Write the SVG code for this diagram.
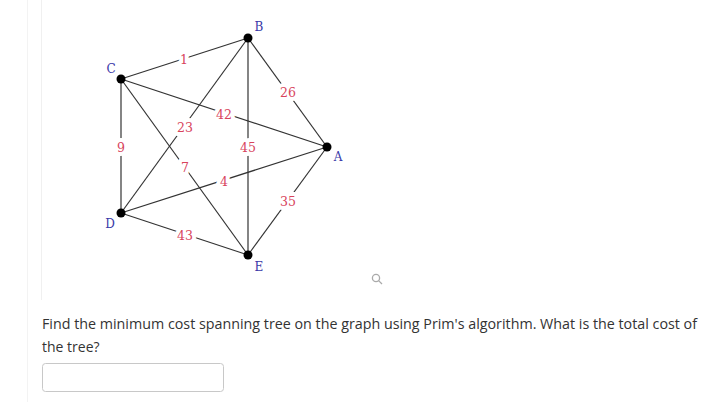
<svg xmlns="http://www.w3.org/2000/svg" width="720" height="402" viewBox="0 0 720 402">
<style>
.edge{stroke:#333;stroke-width:1.2;fill:none}
.w{font-family:"DejaVu Serif","Liberation Serif",serif;font-size:12.5px;fill:#d8445c;text-anchor:middle;dominant-baseline:central;stroke:#fff;stroke-width:8;paint-order:stroke;stroke-linejoin:round}
.nl{font-family:"DejaVu Serif","Liberation Serif",serif;font-size:12px;fill:#3a3aa8;text-anchor:middle;dominant-baseline:central}
.dot{fill:#000}
.q{font-family:"Open Sans","Noto Sans",sans-serif;font-size:14px;fill:#333}
</style>
<rect width="720" height="402" fill="#fff"/>
<line x1="27.5" y1="0" x2="27.5" y2="402" stroke="#f3f3f3" stroke-width="1"/>
<line x1="41.5" y1="0" x2="41.5" y2="300" stroke="#f0f0f0" stroke-width="1"/>
<g id="connectors">
<line class="edge" x1="121" y1="79" x2="248" y2="38"/>
<line class="edge" x1="248" y1="38" x2="327" y2="147"/>
<line class="edge" x1="121" y1="79" x2="327" y2="147"/>
<line class="edge" x1="248" y1="38" x2="121" y2="213"/>
<line class="edge" x1="121" y1="79" x2="121" y2="213"/>
<line class="edge" x1="248" y1="38" x2="248" y2="255"/>
<line class="edge" x1="121" y1="79" x2="248" y2="255"/>
<line class="edge" x1="121" y1="213" x2="327" y2="147"/>
<line class="edge" x1="327" y1="147" x2="248" y2="255"/>
<line class="edge" x1="121" y1="213" x2="248" y2="255"/>
<text class="w" x="184" y="59">1</text>
<text class="w" x="288" y="92">26</text>
<text class="w" x="224" y="114">42</text>
<text class="w" x="185" y="127">23</text>
<text class="w" x="121" y="147">9</text>
<text class="w" x="248" y="147">45</text>
<text class="w" x="185" y="167">7</text>
<text class="w" x="224" y="181">4</text>
<text class="w" x="288" y="201">35</text>
<text class="w" x="185" y="235">43</text>
</g>
<g id="node-B"><circle class="dot" cx="248" cy="38" r="4.5"/><text class="nl" x="259" y="27">B</text></g>
<g id="node-C"><circle class="dot" cx="121" cy="79" r="4.5"/><text class="nl" x="111" y="69">C</text></g>
<g id="node-A"><circle class="dot" cx="327" cy="147" r="4.5"/><text class="nl" x="338" y="157">A</text></g>
<g id="node-D"><circle class="dot" cx="121" cy="213" r="4.5"/><text class="nl" x="110" y="224">D</text></g>
<g id="node-E"><circle class="dot" cx="248" cy="255" r="4.5"/><text class="nl" x="259" y="267">E</text></g>
<g id="search-icon" stroke="#aaa" stroke-width="1.3" fill="none">
<circle cx="376" cy="278" r="3.6"/>
<line x1="378.6" y1="280.6" x2="382" y2="284"/>
</g>
<text class="q" x="42" y="329" textLength="655" lengthAdjust="spacingAndGlyphs">Find the minimum cost spanning tree on the graph using Prim's algorithm. What is the total cost of</text>
<text class="q" x="42" y="352">the tree?</text>
<rect x="42.5" y="363.5" width="181" height="28" rx="3" fill="#fff" stroke="#c8c8c8" stroke-width="1"/>
</svg>
